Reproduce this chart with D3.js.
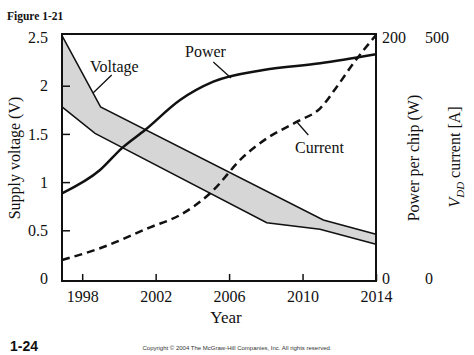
<!DOCTYPE html>
<html><head><meta charset="utf-8">
<script src="https://cdn.jsdelivr.net/npm/d3@7"></script>
<style>body{margin:0;background:#fff}svg{display:block}</style>
</head><body>
<script>
// Data
const voltUpperYears = [1996.9, 1999.0, 2011.13, 2014];
const voltUpper      = [2.52, 1.78, 0.607, 0.459];
const voltLowerYears = [1996.9, 1998.7, 2008.05, 2010.95, 2014];
const voltLower      = [1.78, 1.506, 0.579, 0.51, 0.355];
const powerYears = [1996.9, 1998.97, 2000.15, 2001.42, 2003.33, 2005.14, 2007.87, 2010.96, 2014];
const powerW     = [70.7, 90, 108, 123.2, 148.1, 163.3, 173, 178.6, 186.1];
const currentYears = [1996.9, 1998.97, 2001.7, 2003.33, 2004.97, 2006.78, 2008.06, 2009.7, 2010.96, 2011.87, 2012.77, 2014];
const currentA     = [38.4, 62.7, 106.2, 131.7, 176.8, 252.7, 290.9, 325.3, 353.1, 397.9, 446.5, 505];
const xTicks = [1998, 2002, 2006, 2010, 2014];
const yTicks = [0, 0.5, 1, 1.5, 2, 2.5];
const yTickLabels = ["0", "0.5", "1", "1.5", "2", "2.5"];

const W = 474, H = 355;
const svg = d3.select("body").append("svg").attr("width", W).attr("height", H);
const serif = "'Liberation Serif','Times New Roman',serif";
const sans = "'Liberation Sans',Arial,sans-serif";

const x = d3.scaleLinear().domain([1996.9, 2014]).range([62, 376]);
const yV = d3.scaleLinear().domain([0, 2.5]).range([278.5, 37.5]);
const yP = d3.scaleLinear().domain([0, 200]).range([278.5, 37.5]);
const yC = d3.scaleLinear().domain([0, 500]).range([278.5, 37.5]);
const frameTop = 34, frameBot = 281;

// Voltage band
const upperPts = voltUpperYears.map((t, i) => [x(t), yV(voltUpper[i])]);
const lowerPts = voltLowerYears.map((t, i) => [x(t), yV(voltLower[i])]);
const poly = upperPts.concat(lowerPts.slice().reverse());
svg.append("path").attr("d", d3.line()(poly) + "Z").attr("fill", "#d6d6d6").attr("stroke", "none");
svg.append("path").attr("d", d3.line()(upperPts)).attr("fill", "none").attr("stroke", "#111").attr("stroke-width", 1.5);
svg.append("path").attr("d", d3.line()(lowerPts)).attr("fill", "none").attr("stroke", "#111").attr("stroke-width", 1.5);

// Power line
svg.append("path")
  .attr("d", d3.line().x(d => x(d[0])).y(d => yP(d[1])).curve(d3.curveMonotoneX)(powerYears.map((t, i) => [t, powerW[i]])))
  .attr("fill", "none").attr("stroke", "#111").attr("stroke-width", 2.5);

// Current line
svg.append("path")
  .attr("d", d3.line().x(d => x(d[0])).y(d => yC(d[1])).curve(d3.curveMonotoneX)(currentYears.map((t, i) => [t, currentA[i]])))
  .attr("fill", "none").attr("stroke", "#111").attr("stroke-width", 2.5).attr("stroke-dasharray", "8,5");

// Frame
svg.append("rect").attr("x", 62).attr("y", frameTop).attr("width", 314).attr("height", frameBot - frameTop)
  .attr("fill", "none").attr("stroke", "#111").attr("stroke-width", 2);

// X axis ticks (inward)
const xAxis = d3.axisBottom(x).tickValues(xTicks).tickFormat(d3.format("d")).tickSizeInner(-7).tickSizeOuter(0).tickPadding(10);
const gx = svg.append("g").attr("transform", `translate(0,${frameBot})`).call(xAxis);
gx.select(".domain").remove();
gx.selectAll("line").attr("stroke", "#111").attr("stroke-width", 1.5);
gx.selectAll("text").attr("font-family", serif).attr("font-size", 16).attr("fill", "#111");

// Left axis
const yAxis = d3.axisLeft(yV).tickValues(yTicks).tickFormat((d, i) => yTickLabels[i]).tickSizeInner(-8).tickSizeOuter(0).tickPadding(14);
const gy = svg.append("g").attr("transform", "translate(62,0)").call(yAxis);
gy.select(".domain").remove();
gy.selectAll("line").attr("stroke", "#111").attr("stroke-width", 1.5);
gy.selectAll("line").filter(d => d === 0 || d === 2.5).remove();
gy.selectAll("text").attr("font-family", serif).attr("font-size", 16).attr("fill", "#111");

// Right axes labels
const pAxis = d3.axisRight(yP).tickValues([0, 200]).tickSize(0).tickPadding(6);
const gp = svg.append("g").attr("transform", "translate(376,0)").call(pAxis);
gp.select(".domain").remove();
gp.selectAll("text").attr("font-family", serif).attr("font-size", 16).attr("fill", "#111");
const cAxis = d3.axisRight(yC).tickValues([0, 500]).tickSize(0).tickPadding(0);
const gc = svg.append("g").attr("transform", "translate(425,0)").call(cAxis);
gc.select(".domain").remove();
gc.selectAll("text").attr("font-family", serif).attr("font-size", 16).attr("fill", "#111");

// Axis titles
svg.append("text").attr("x", 226).attr("y", 323).attr("text-anchor", "middle")
  .attr("font-family", serif).attr("font-size", 17).attr("fill", "#111").text("Year");
svg.append("text").attr("transform", "translate(20,158) rotate(-90)").attr("text-anchor", "middle")
  .attr("font-family", serif).attr("font-size", 16).attr("fill", "#111").text("Supply voltage (V)");
svg.append("text").attr("transform", "translate(419,158) rotate(-90)").attr("text-anchor", "middle")
  .attr("font-family", serif).attr("font-size", 16).attr("fill", "#111").text("Power per chip (W)");
const vt = svg.append("text").attr("transform", "translate(460,157) rotate(-90)").attr("text-anchor", "middle")
  .attr("font-family", serif).attr("font-size", 16).attr("fill", "#111");
vt.append("tspan").attr("font-style", "italic").text("V");
vt.append("tspan").attr("font-style", "italic").attr("font-size", 11).attr("dy", 4).text("DD");
vt.append("tspan").attr("dy", -4).text(" current [A]");

// Series labels and pointers
const lab = (t, lx, ly) => svg.append("text").attr("x", lx).attr("y", ly).attr("font-family", serif).attr("font-size", 16).attr("fill", "#111").text(t);
lab("Voltage", 90, 72);
lab("Power", 185, 57);
lab("Current", 295, 153);
const ptr = (a, b, c, d) => svg.append("line").attr("x1", a).attr("y1", b).attr("x2", c).attr("y2", d).attr("stroke", "#111").attr("stroke-width", 1.3);
ptr(111.7, 75, 93.3, 92.7);
ptr(213.3, 62, 231, 78);
ptr(296.7, 121.7, 308.3, 135);

// Header / footer
svg.append("text").attr("x", 7).attr("y", 20).attr("font-family", serif).attr("font-weight", "bold")
  .attr("font-size", 11.5).attr("fill", "#111").text("Figure 1-21");
svg.append("text").attr("x", 10).attr("y", 351).attr("font-family", sans).attr("font-weight", "bold")
  .attr("font-size", 14).attr("fill", "#111").text("1-24");
svg.append("text").attr("x", 237).attr("y", 350).attr("text-anchor", "middle").attr("font-family", sans)
  .attr("font-size", 6).attr("fill", "#333").text("Copyright \u00A9 2004 The McGraw-Hill Companies, Inc. All rights reserved.");
</script>
</body></html>
